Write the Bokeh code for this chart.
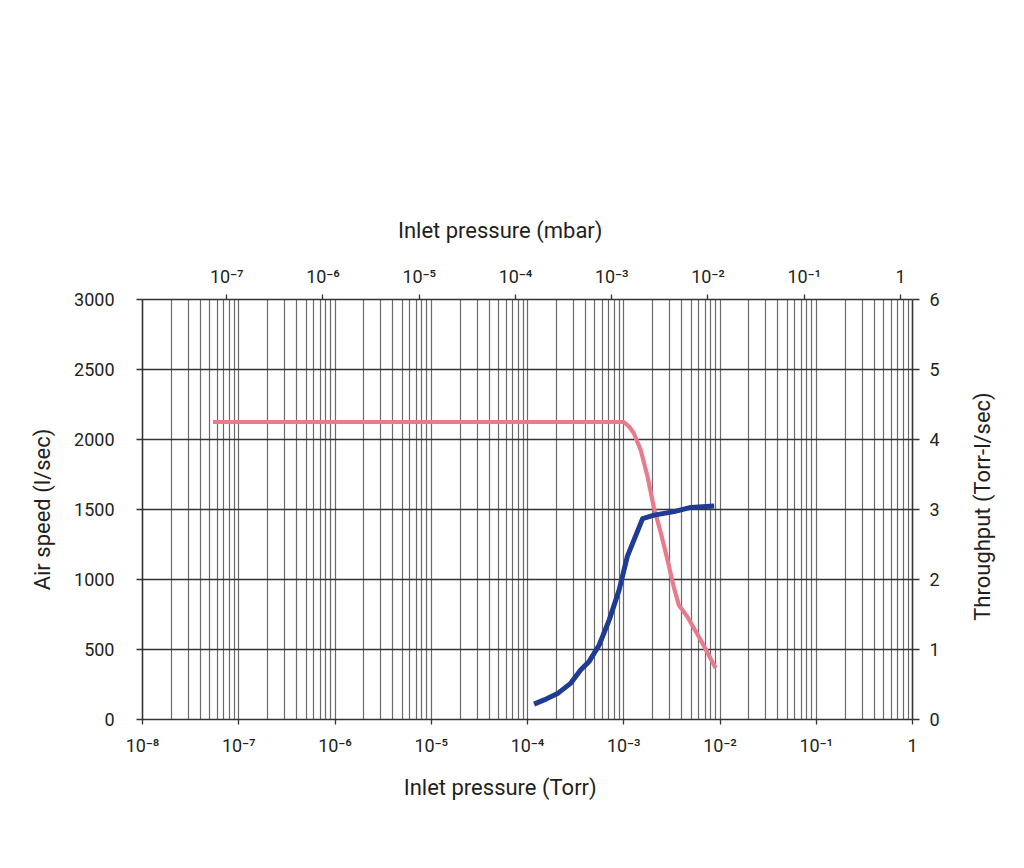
import math
from bokeh.plotting import figure
from bokeh.models import (Range1d, LogAxis, LinearAxis, LogScale, FixedTicker,
                          CustomJSTickFormatter, Label)
from bokeh.embed import file_html
from bokeh.resources import INLINE

# ---------------- data ----------------
TORR_TO_MBAR = 1.33322

# Air speed (l/sec), left axis
speed_pressure_torr = [5.4e-8, 1.0e-3, 1.14e-3, 1.27e-3, 1.5e-3, 1.77e-3, 2.05e-3,
                       2.43e-3, 2.85e-3, 3.31e-3, 3.73e-3, 4.6e-3, 6.3e-3, 9.0e-3]
speed_l_per_s = [2125, 2125, 2091, 2046, 1925, 1734, 1518,
                 1332, 1139, 946, 818, 732, 568, 368]

# Throughput (Torr-l/sec), right axis
thr_pressure_torr = [1.17e-4, 1.49e-4, 2.05e-4, 2.82e-4, 3.58e-4, 4.37e-4, 5.54e-4,
                     7.05e-4, 8.95e-4, 1.09e-3, 1.57e-3, 2.07e-3, 3.33e-3, 4.97e-3, 8.7e-3]
thr_torr_l_per_s = [0.22, 0.28, 0.37, 0.52, 0.71, 0.83, 1.06,
                    1.42, 1.85, 2.33, 2.87, 2.92, 2.97, 3.03, 3.05]

torr_ticks = [1e-8, 1e-7, 1e-6, 1e-5, 1e-4, 1e-3, 1e-2, 1e-1, 1.0]
torr_labels = ["10⁻⁸", "10⁻⁷", "10⁻⁶", "10⁻⁵", "10⁻⁴", "10⁻³", "10⁻²", "10⁻¹", "1"]
mbar_ticks = [1e-7, 1e-6, 1e-5, 1e-4, 1e-3, 1e-2, 1e-1, 1.0]
mbar_labels = ["10⁻⁷", "10⁻⁶", "10⁻⁵", "10⁻⁴", "10⁻³", "10⁻²", "10⁻¹", "1"]
speed_ticks = [0, 500, 1000, 1500, 2000, 2500, 3000]
thr_ticks = [0, 1, 2, 3, 4, 5, 6]
minor_mult = [2, 3, 4, 5, 6, 7, 8, 9]

FONT = "Roboto"
TXT = "#231f20"
AX = "#333333"
PAD = "\u00a0" * 10  # shifts the centred horizontal titles left, as in the original

torr_minor = [m * t for t in torr_ticks[:-1] for m in minor_mult]

p = figure(width=1024, height=868, x_axis_type="log",
           x_range=Range1d(1e-8, 1.0), y_range=Range1d(0, 3000),
           output_backend="svg", toolbar_location=None,
           min_border_left=142, min_border_right=112,
           min_border_top=299, min_border_bottom=149)
p.outline_line_color = None
p.background_fill_color = "white"
p.border_fill_color = "white"

p.extra_x_ranges = {"mbar": Range1d(1e-8 * TORR_TO_MBAR, 1.0 * TORR_TO_MBAR)}
p.extra_x_scales = {"mbar": LogScale()}
p.extra_y_ranges = {"thr": Range1d(0, 6)}


def fmt(ticks, labels):
    return CustomJSTickFormatter(args=dict(vals=ticks, labs=labels), code="""
        for (let i = 0; i < vals.length; i++) {
            if (Math.abs(Math.log10(vals[i]) - Math.log10(tick)) < 1e-6) return labs[i];
        }
        return '';
    """)


def lin_fmt():
    return CustomJSTickFormatter(code="return String(Math.round(tick));")


def style(ax, tick_out, standoff):
    ax.axis_line_color = AX
    ax.axis_line_width = 1.6
    ax.major_tick_line_color = AX
    ax.major_tick_line_width = 1.3
    ax.major_tick_in = 0
    ax.major_tick_out = tick_out
    ax.minor_tick_line_color = None
    ax.major_label_text_font = FONT
    ax.major_label_text_font_size = "18px"
    ax.major_label_text_color = TXT
    ax.major_label_standoff = standoff
    ax.axis_label_text_font = FONT
    ax.axis_label_text_font_size = "22px"
    ax.axis_label_text_font_style = "normal"
    ax.axis_label_text_color = TXT


x_ticker = FixedTicker(ticks=torr_ticks, minor_ticks=torr_minor)
bx = p.xaxis[0]
bx.ticker = x_ticker
bx.formatter = fmt(torr_ticks, torr_labels)
style(bx, 5, 10)
bx.axis_label = "Inlet pressure (Torr)" + PAD
bx.axis_label_standoff = 16

ly = p.yaxis[0]
ly.ticker = FixedTicker(ticks=speed_ticks)
ly.formatter = lin_fmt()
style(ly, 6, 22)
ly.axis_label = "Air speed (l/sec)"
ly.axis_label_standoff = 16

ry = LinearAxis(y_range_name="thr", ticker=FixedTicker(ticks=thr_ticks), formatter=lin_fmt())
style(ry, 7, 10)
p.add_layout(ry, "right")

tx = LogAxis(x_range_name="mbar", ticker=FixedTicker(ticks=mbar_ticks),
             formatter=fmt(mbar_ticks, mbar_labels))
style(tx, 5, 8)
tx.axis_label = "Inlet pressure (mbar)" + PAD
tx.axis_label_standoff = 20
p.add_layout(tx, "above")

p.xgrid.ticker = x_ticker
p.xgrid.grid_line_color = "#6a6a6a"
p.xgrid.grid_line_width = 1.2
p.xgrid.minor_grid_line_color = "#6a6a6a"
p.xgrid.minor_grid_line_width = 1.2
p.ygrid.ticker = FixedTicker(ticks=speed_ticks)
p.ygrid.grid_line_color = "#333333"
p.ygrid.grid_line_width = 1.3

p.line(speed_pressure_torr, speed_l_per_s, line_color="#e97b8c", line_width=4.2,
       line_join="round", line_cap="butt")
p.line(thr_pressure_torr, thr_torr_l_per_s, y_range_name="thr", line_color="#1f3b93",
       line_width=5, line_join="round", line_cap="butt")

# right-hand title, reading bottom to top, placed in the right side panel
p.add_layout(Label(x=40, y=213, x_units="screen", y_units="screen",
                   text="Throughput (Torr-l/sec)", angle=math.pi / 2,
                   text_font=FONT, text_font_size="22px", text_color=TXT,
                   text_align="center", text_baseline="middle"), "right")

open("out.html", "w").write(file_html(p, INLINE))
